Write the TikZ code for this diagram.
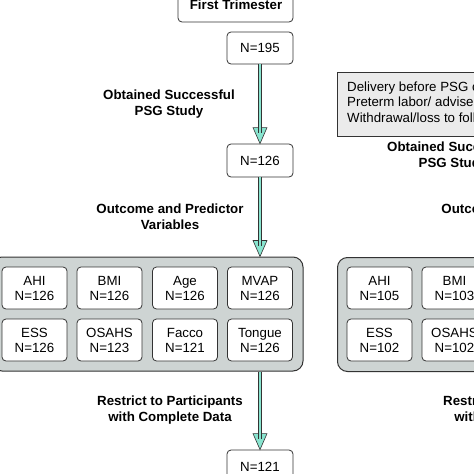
\documentclass[tikz,border=0pt]{standalone}
\usepackage{fontspec}
\setmainfont{Liberation Sans}
\usetikzlibrary{calc}
\definecolor{mint}{HTML}{88E4CF}
\definecolor{edge}{HTML}{333333}
\definecolor{panel}{HTML}{CED4D3}
\definecolor{exclfill}{HTML}{EBEBEB}
\newcommand\flowarrow[2]{%
  \draw[head] (#2) -- ++(-7,-16) -- ++(14,0) -- cycle;
  \draw[shaft] (#1) -- ($(#2)+(0,-11)$);}
\begin{document}
\begin{tikzpicture}[x=1pt,y=-1pt,
  nbox/.style={draw=edge, line width=0.8pt, rounded corners=4pt, fill=white,
    minimum width=66pt, minimum height=32pt, inner sep=0pt,
    font=\fontsize{13.3}{15}\selectfont, align=center},
  vbox/.style={nbox, minimum width=65pt, minimum height=42pt},
  panelbox/.style={draw=edge, line width=1pt, rounded corners=10pt, fill=panel, inner sep=0pt},
  steplabel/.style={font=\bfseries\fontsize{13.3}{16}\selectfont, align=center},
  shaft/.style={draw=edge, line width=0.6pt, double=mint, double distance=2.6pt},
  head/.style={draw=edge, line width=0.6pt, fill=mint, line join=miter}
]
\useasboundingbox (0,0) rectangle (474,474);
\clip (0,0) rectangle (474,474);
\fill[white] (0,0) rectangle (474,474);

% left column
\node[nbox, minimum width=115pt, minimum height=52pt] (first) at (235.5,-4) {};
\node[font=\bfseries\fontsize{13.3}{16}\selectfont, inner sep=0pt] (firsttxt) at (236,4.5) {First Trimester};
\node[nbox] (n195) at (260,48) {N=195};
\node[nbox, minimum height=33pt] (n126) at (260,160.5) {N=126};
\node[panelbox, minimum width=311pt, minimum height=114pt] (panelL) at (147.5,314) {};
\node[vbox] (ahiL) at (34.5,288) {AHI\\N=126};
\node[vbox] (bmiL) at (109.5,288) {BMI\\N=126};
\node[vbox] (ageL) at (185,288) {Age\\N=126};
\node[vbox] (mvapL) at (260,288) {MVAP\\N=126};
\node[vbox] (essL) at (34.5,340) {ESS\\N=126};
\node[vbox] (osahsL) at (109.5,340) {OSAHS\\N=123};
\node[vbox] (faccoL) at (185,340) {Facco\\N=121};
\node[vbox] (tongueL) at (260,340) {Tongue\\N=126};
\node[nbox, minimum height=40pt] (n121) at (260,470) {};
\node[font=\fontsize{13.3}{15}\selectfont, inner sep=0pt] (n121txt) at (260,466.5) {N=121};

\node[steplabel] (lab1) at (169,104) {Obtained Successful\\PSG Study};
\node[steplabel] (lab2) at (170,216.5) {Outcome and Predictor\\Variables};
\node[steplabel] (lab3) at (170,410) {Restrict to Participants\\with Complete Data};

\coordinate (t2) at (n126.south |- panelL.north);
\coordinate (s3) at (n126.south |- panelL.south);
\flowarrow{n195.south}{n126.north}
\flowarrow{n126.south}{t2}
\flowarrow{s3}{n121.north}

% right column (cropped)
\node[draw=edge, line width=0.8pt, fill=exclfill, minimum width=263pt, minimum height=64pt,
  anchor=north west, inner sep=0pt] (excl) at (337,72) {};
\node[anchor=west, align=left, inner sep=0pt, font=\fontsize{13.3}{15.5}\selectfont] (excltxt) at (347,103.5)
  {Delivery before PSG completed\\Preterm labor/ advised bed rest\\Withdrawal/loss to follow-up};
\node[steplabel] (lab1R) at (453,156) {Obtained Successful\\PSG Study};
\node[steplabel] (lab2R) at (515,216.5) {Outcome and Predictor\\Variables};
\node[steplabel] (lab3R) at (516,410) {Restrict to Participants\\with Complete Data};
\node[panelbox, minimum width=320pt, minimum height=114pt, anchor=north west] (panelR) at (337,257) {};
\node[vbox] (ahiR) at (379.5,288) {AHI\\N=105};
\node[vbox] (bmiR) at (454.5,288) {BMI\\N=103};
\node[vbox] (essR) at (379.5,340) {ESS\\N=102};
\node[vbox] (osahsR) at (454.5,340) {OSAHS\\N=102};
\end{tikzpicture}
\end{document}
